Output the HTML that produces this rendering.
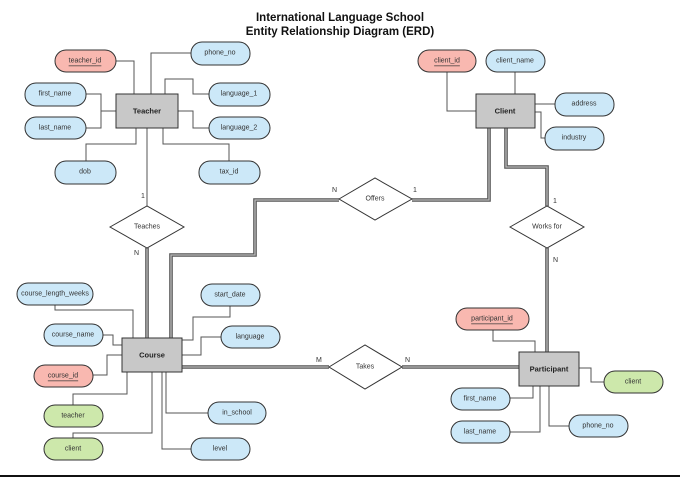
<!DOCTYPE html>
<html><head><meta charset="utf-8"><style>
body{margin:0;background:#fff;width:680px;height:477px;overflow:hidden}
svg{display:block;font-family:"Liberation Sans",sans-serif}
.l{fill:none;stroke:#555;stroke-width:1}
.d1{fill:none;stroke:#555;stroke-width:3.6}
.d2{fill:none;stroke:#bbb;stroke-width:1.3}
.b{fill:#cce8f8;stroke:#333}.p{fill:#f9b8b0;stroke:#333}.g{fill:#cde8ab;stroke:#333}
.e{fill:#c8c8c8;stroke:#333}
.t{font-size:7px;fill:#333;text-anchor:middle;dominant-baseline:central}
.et{font-size:7.5px;font-weight:bold;fill:#222;text-anchor:middle;dominant-baseline:central}
.c{font-size:7px;fill:#333}
</style></head><body>
<svg width="680" height="477" viewBox="0 0 680 477">
<rect x="0" y="0" width="680" height="477" fill="#fff"/>
<line x1="0" y1="476" x2="680" y2="476" stroke="#111" stroke-width="2"/>
<text x="340" y="21" font-size="11.5" font-weight="bold" text-anchor="middle" fill="#111">International Language School</text>
<text x="340" y="35" font-size="11.5" font-weight="bold" text-anchor="middle" fill="#111">Entity Relationship Diagram (ERD)</text>

<!-- thin lines -->
<g class="l">
<polyline points="116,61 134,61 134,94"/>
<polyline points="191,53 151,53 151,94"/>
<polyline points="86,94 101,94 101,128 86,128"/>
<polyline points="101,111 116,111"/>
<polyline points="209,94 193,94 193,79 165,79 165,94"/>
<polyline points="209,128 193,128 193,111 178,111"/>
<polyline points="86,161 86,144 136,144 136,128"/>
<polyline points="229,161 229,144 163,144 163,128"/>
<polyline points="147,128 147,206"/>
<polyline points="447,72 447,111 476,111"/>
<polyline points="515,72 515,94"/>
<polyline points="535,104 555,104"/>
<polyline points="535,112 541,112 541,138 545,138"/>
<polyline points="55,305 55,310 133,310 133,338"/>
<polyline points="103,335 113,335 113,345 122,345"/>
<polyline points="93,375 107,375 107,355 122,355"/>
<polyline points="73,405 73,394 127,394 127,372"/>
<polyline points="73,438 73,433 152,433 152,372"/>
<polyline points="230,306 230,317 193,317 193,340 182,340"/>
<polyline points="221,337 201,337 201,355 182,355"/>
<polyline points="208,413 166,413 166,372"/>
<polyline points="191,449 162,449 162,372"/>
<polyline points="493,330 493,341 535,341 535,352"/>
<polyline points="510,398 533,398 533,386"/>
<polyline points="510,432 540,432 540,386"/>
<polyline points="569,426 549,426 549,386"/>
<polyline points="579,368 591,368 591,382 604,382"/>
</g>
<!-- double lines -->
<g class="d1">
<polyline points="147,248 147,338"/>
<polyline points="339,200 255,200 255,255 171,255 171,338"/>
<polyline points="412,200 489,200 489,128"/>
<polyline points="506,128 506,167 547,167 547,206"/>
<polyline points="547,248 547,352"/>
<polyline points="182,367 329,367"/>
<polyline points="402,367 519,367"/>
</g>
<g class="d2">
<polyline points="147,248 147,338"/>
<polyline points="339,200 255,200 255,255 171,255 171,338"/>
<polyline points="412,200 489,200 489,128"/>
<polyline points="506,128 506,167 547,167 547,206"/>
<polyline points="547,248 547,352"/>
<polyline points="182,367 329,367"/>
<polyline points="402,367 519,367"/>
</g>

<!-- diamonds -->
<g fill="#fff" stroke="#333">
<polygon points="110,227 147,206 184,227 147,248"/>
<polygon points="339,199 375,178 412,199 375,220"/>
<polygon points="510,227 547,206 584,227 547,248"/>
<polygon points="329,367 365,345 402,367 365,389"/>
</g>
<text class="t" x="147" y="227">Teaches</text>
<text class="t" x="375" y="199">Offers</text>
<text class="t" x="547" y="227">Works for</text>
<text class="t" x="365" y="367">Takes</text>

<text class="c" x="141" y="198">1</text>
<text class="c" x="134" y="255">N</text>
<text class="c" x="332" y="192">N</text>
<text class="c" x="413" y="192">1</text>
<text class="c" x="553" y="203">1</text>
<text class="c" x="553" y="262">N</text>
<text class="c" x="316" y="362">M</text>
<text class="c" x="405" y="362">N</text>

<!-- entities -->
<rect class="e" x="116" y="94" width="62" height="34"/><text class="et" x="147" y="111">Teacher</text>
<rect class="e" x="122" y="338" width="60" height="34"/><text class="et" x="152" y="355">Course</text>
<rect class="e" x="476" y="94" width="59" height="34"/><text class="et" x="505" y="111">Client</text>
<rect class="e" x="519" y="352" width="60" height="34"/><text class="et" x="549" y="369">Participant</text>

<!-- attributes -->
<g>
<rect class="p" x="55" y="50" width="61" height="22" rx="11"/><text class="t" x="85" y="61" text-decoration="underline">teacher_id</text>
<rect class="b" x="191" y="42" width="59" height="23" rx="11"/><text class="t" x="220" y="53">phone_no</text>
<rect class="b" x="25" y="83" width="61" height="23" rx="11"/><text class="t" x="55" y="94">first_name</text>
<rect class="b" x="209" y="83" width="61" height="23" rx="11"/><text class="t" x="239" y="94">language_1</text>
<rect class="b" x="25" y="117" width="61" height="22" rx="11"/><text class="t" x="55" y="128">last_name</text>
<rect class="b" x="209" y="117" width="61" height="22" rx="11"/><text class="t" x="239" y="128">language_2</text>
<rect class="b" x="55" y="161" width="61" height="23" rx="11"/><text class="t" x="85" y="172">dob</text>
<rect class="b" x="199" y="161" width="61" height="23" rx="11"/><text class="t" x="229" y="172">tax_id</text>

<rect class="p" x="418" y="50" width="58" height="22" rx="11"/><text class="t" x="447" y="61" text-decoration="underline">client_id</text>
<rect class="b" x="486" y="50" width="59" height="22" rx="11"/><text class="t" x="515" y="61">client_name</text>
<rect class="b" x="555" y="93" width="59" height="23" rx="11"/><text class="t" x="584" y="104">address</text>
<rect class="b" x="545" y="127" width="59" height="23" rx="11"/><text class="t" x="574" y="138">industry</text>

<rect class="b" x="17" y="283" width="76" height="22" rx="11"/><text class="t" x="55" y="294">course_length_weeks</text>
<rect class="b" x="44" y="324" width="59" height="22" rx="11"/><text class="t" x="73" y="335">course_name</text>
<rect class="p" x="34" y="365" width="59" height="22" rx="11"/><text class="t" x="63" y="376" text-decoration="underline">course_id</text>
<rect class="g" x="44" y="405" width="59" height="22" rx="11"/><text class="t" x="73" y="416">teacher</text>
<rect class="g" x="44" y="438" width="59" height="22" rx="11"/><text class="t" x="73" y="449">client</text>
<rect class="b" x="201" y="284" width="59" height="22" rx="11"/><text class="t" x="230" y="295">start_date</text>
<rect class="b" x="221" y="326" width="59" height="22" rx="11"/><text class="t" x="250" y="337">language</text>
<rect class="b" x="208" y="402" width="58" height="22" rx="11"/><text class="t" x="237" y="413">in_school</text>
<rect class="b" x="191" y="438" width="59" height="22" rx="11"/><text class="t" x="220" y="449">level</text>

<rect class="p" x="456" y="308" width="73" height="22" rx="11"/><text class="t" x="492" y="319" text-decoration="underline">participant_id</text>
<rect class="b" x="451" y="388" width="59" height="22" rx="11"/><text class="t" x="480" y="399">first_name</text>
<rect class="b" x="451" y="421" width="59" height="22" rx="11"/><text class="t" x="480" y="432">last_name</text>
<rect class="b" x="569" y="415" width="59" height="22" rx="11"/><text class="t" x="598" y="426">phone_no</text>
<rect class="g" x="604" y="371" width="59" height="22" rx="11"/><text class="t" x="633" y="382">client</text>
</g>
</svg>
</body></html>
